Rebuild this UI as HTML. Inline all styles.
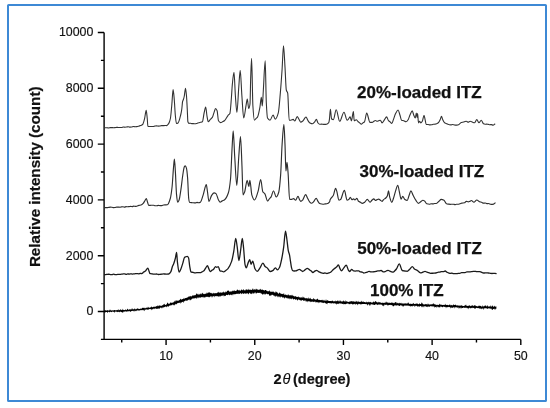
<!DOCTYPE html>
<html><head><meta charset="utf-8"><title>XRD patterns</title>
<style>html,body{margin:0;padding:0;background:#fff;}body{width:550px;height:408px;overflow:hidden;}svg{display:block;}</style>
</head><body>
<svg width="550" height="408" viewBox="0 0 550 408">
<rect x="8" y="5" width="538" height="396" rx="0.6" fill="none" stroke="#3d89d5" stroke-width="2"/>
<path d="M104.1 32.50V339.4H520.8 M100.90 339.40H104.1 M97.80 311.50H104.1 M100.90 283.60H104.1 M97.80 255.70H104.1 M100.90 227.80H104.1 M97.80 199.90H104.1 M100.90 172.00H104.1 M97.80 144.10H104.1 M100.90 116.20H104.1 M97.80 88.30H104.1 M100.90 60.40H104.1 M97.80 32.50H104.1 M121.74 339.4V342.40 M166.08 339.4V345.00 M210.42 339.4V342.40 M254.76 339.4V345.00 M299.10 339.4V342.40 M343.44 339.4V345.00 M387.78 339.4V342.40 M432.12 339.4V345.00 M476.46 339.4V342.40 M520.80 339.4V345.00" fill="none" stroke="#000" stroke-width="1.4"/>
<g font-family="Liberation Sans, Arial, sans-serif" font-size="12.4" fill="#111" stroke="#111" stroke-width="0.15"><text x="93.4" y="315.40" text-anchor="end">0</text><text x="93.4" y="259.60" text-anchor="end">2000</text><text x="93.4" y="203.80" text-anchor="end">4000</text><text x="93.4" y="148.00" text-anchor="end">6000</text><text x="93.4" y="92.20" text-anchor="end">8000</text><text x="93.4" y="36.40" text-anchor="end">10000</text><text x="166.08" y="359.6" text-anchor="middle">10</text><text x="254.76" y="359.6" text-anchor="middle">20</text><text x="343.44" y="359.6" text-anchor="middle">30</text><text x="432.12" y="359.6" text-anchor="middle">40</text><text x="520.80" y="359.6" text-anchor="middle">50</text></g>
<path d="M104.00 127.80C104.52 127.78 105.05 127.74 105.57 127.74C106.10 127.74 106.62 127.76 107.14 127.78C107.67 127.80 108.19 127.97 108.71 127.97C109.24 127.97 109.76 127.67 110.29 127.67C110.81 127.66 111.33 127.66 111.86 127.66C112.38 127.66 112.90 127.68 113.43 127.68C113.95 127.68 114.48 127.64 115.00 127.60C115.56 127.56 116.11 127.34 116.67 127.34C117.22 127.34 117.78 127.47 118.33 127.47C118.89 127.48 119.44 127.48 120.00 127.48C120.56 127.48 121.11 127.51 121.67 127.51C122.22 127.51 122.78 127.02 123.33 127.02C123.89 127.02 124.44 127.20 125.00 127.20C125.56 127.20 126.11 127.07 126.67 127.00C127.22 126.93 127.78 126.79 128.33 126.79C128.89 126.79 129.44 127.14 130.00 127.14C130.56 127.14 131.11 127.06 131.67 126.98C132.22 126.91 132.78 126.51 133.33 126.51C133.89 126.51 134.44 126.70 135.00 126.70C135.61 126.70 136.22 126.67 136.83 126.62C137.44 126.58 138.06 126.40 138.67 126.25C139.28 126.09 139.89 125.86 140.50 125.60C141.20 125.31 141.90 125.13 142.60 124.50C143.27 123.90 143.93 121.04 144.60 118.50C145.13 116.47 145.67 110.40 146.20 110.40C146.53 110.40 146.87 114.89 147.20 118.00C147.43 120.18 147.67 126.13 147.90 126.20C148.48 126.39 149.07 126.41 149.65 126.44C150.23 126.47 150.82 126.50 151.40 126.50C151.97 126.50 152.55 126.49 153.12 126.47C153.69 126.45 154.27 126.18 154.84 126.09C155.41 126.01 155.99 125.91 156.56 125.91C157.13 125.91 157.71 126.12 158.28 126.12C158.85 126.12 159.43 126.06 160.00 126.00C160.55 125.94 161.10 125.65 161.65 125.64C162.20 125.62 162.75 125.63 163.30 125.61C163.85 125.60 164.40 125.55 164.95 125.55C165.50 125.55 166.05 125.60 166.60 125.60C167.33 125.60 168.07 124.54 168.80 123.40C169.33 122.57 169.87 121.01 170.40 118.50C170.87 116.31 171.33 109.97 171.80 105.00C172.23 100.39 172.67 89.60 173.10 89.60C173.50 89.60 173.90 95.57 174.30 100.00C174.63 103.69 174.97 111.61 175.30 115.00C175.67 118.73 176.03 123.40 176.40 123.40C176.97 123.40 177.53 123.19 178.10 122.90C179.00 122.44 179.90 118.24 180.80 114.50C181.13 113.12 181.47 111.33 181.80 109.00C182.07 107.13 182.33 102.55 182.60 101.50C182.87 100.45 183.13 100.31 183.40 99.50C183.70 98.59 184.00 97.44 184.30 96.00C184.70 94.08 185.10 88.20 185.50 88.20C185.83 88.20 186.17 92.35 186.50 96.00C186.77 98.92 187.03 105.05 187.30 110.00C187.50 113.71 187.70 121.21 187.90 121.80C188.27 122.88 188.63 123.40 189.00 123.40C189.50 123.40 190.00 123.22 190.50 123.22C191.00 123.22 191.50 123.53 192.00 123.58C192.50 123.62 193.00 123.63 193.50 123.66C194.00 123.70 194.50 123.80 195.00 123.80C195.62 123.80 196.23 123.63 196.85 123.48C197.47 123.33 198.08 122.95 198.70 122.76C199.32 122.58 199.93 122.48 200.55 122.31C201.17 122.14 201.78 122.08 202.40 121.70C203.00 121.33 203.60 115.05 204.20 112.50C204.70 110.38 205.20 107.00 205.70 107.00C206.13 107.00 206.57 113.80 207.00 116.20C207.40 118.42 207.80 121.70 208.20 121.70C208.92 121.70 209.63 120.17 210.35 119.40C211.07 118.63 211.78 118.25 212.50 117.10C213.10 116.14 213.70 113.20 214.30 111.60C214.73 110.45 215.17 108.50 215.60 108.50C216.10 108.50 216.60 109.47 217.10 110.70C217.57 111.85 218.03 120.07 218.50 120.80C219.23 121.95 219.97 122.60 220.70 122.60C221.32 122.60 221.93 122.09 222.55 121.80C223.17 121.50 223.78 121.26 224.40 120.80C225.63 119.87 226.87 116.79 228.10 115.30C228.70 114.57 229.30 114.58 229.90 113.40C230.40 112.42 230.90 103.91 231.40 97.80C231.70 94.14 232.00 87.92 232.30 84.90C232.87 79.20 233.43 72.40 234.00 72.40C234.47 72.40 234.93 89.77 235.40 96.00C235.90 102.67 236.40 112.50 236.90 112.50C237.53 112.50 238.17 94.78 238.80 86.80C239.27 80.92 239.73 70.20 240.20 70.20C240.77 70.20 241.33 88.32 241.90 96.00C242.50 104.13 243.10 118.00 243.70 118.00C244.50 118.00 245.30 109.27 246.10 105.10C246.50 103.02 246.90 99.00 247.30 99.00C247.77 99.00 248.23 108.50 248.70 108.50C249.13 108.50 249.57 107.00 250.00 104.00C250.23 102.39 250.47 84.05 250.70 77.60C251.00 69.30 251.30 58.30 251.60 58.30C252.03 58.30 252.47 99.39 252.90 106.00C253.40 113.63 253.90 120.20 254.40 120.20C254.92 120.20 255.43 119.14 255.95 118.62C256.47 118.11 256.98 117.88 257.50 117.10C258.33 115.84 259.17 111.23 260.00 106.70C260.43 104.34 260.87 97.30 261.30 97.30C261.63 97.30 261.97 106.00 262.30 106.00C262.63 106.00 262.97 96.13 263.30 91.00C263.93 81.25 264.57 60.80 265.20 60.80C265.57 60.80 265.93 95.35 266.30 102.50C266.70 110.30 267.10 117.40 267.50 118.10C268.33 119.57 269.17 120.20 270.00 120.20C271.03 120.20 272.07 115.00 273.10 115.00C273.80 115.00 274.50 119.20 275.20 119.20C276.23 119.20 277.27 116.54 278.30 112.90C279.00 110.44 279.70 100.13 280.40 92.10C280.97 85.60 281.53 77.68 282.10 69.20C282.57 62.21 283.03 45.80 283.50 45.80C284.00 45.80 284.50 59.22 285.00 67.10C285.43 73.93 285.87 88.28 286.30 90.00C286.77 91.85 287.23 91.28 287.70 93.10C288.20 95.05 288.70 120.20 289.20 120.20C289.73 120.20 290.27 120.20 290.80 120.20C291.60 120.20 292.40 119.40 293.20 119.40C293.73 119.40 294.27 121.00 294.80 121.00C295.60 121.00 296.40 116.60 297.20 116.60C297.73 116.60 298.27 118.18 298.80 119.00C299.47 120.03 300.13 122.20 300.80 122.20C301.47 122.20 302.13 121.53 302.80 121.00C303.87 120.16 304.93 117.00 306.00 117.00C306.67 117.00 307.33 119.64 308.00 120.60C308.67 121.56 309.33 122.65 310.00 123.00C310.80 123.42 311.60 123.80 312.40 123.80C313.07 123.80 313.73 122.88 314.40 122.20C315.07 121.52 315.73 119.40 316.40 119.40C316.93 119.40 317.47 122.40 318.00 123.00C318.53 123.60 319.07 124.20 319.60 124.20C320.27 124.20 320.93 124.17 321.60 124.17C322.27 124.17 322.93 124.40 323.60 124.40C324.27 124.40 324.93 124.40 325.60 124.40C326.27 124.40 326.93 124.12 327.60 123.80C328.00 123.61 328.40 123.32 328.80 122.60C329.00 122.24 329.20 120.91 329.40 119.60C329.73 117.42 330.07 109.30 330.40 109.30C330.80 109.30 331.20 118.87 331.60 119.10C332.20 119.44 332.80 119.60 333.40 119.60C334.33 119.60 335.27 109.80 336.20 109.80C337.37 109.80 338.53 121.30 339.70 121.30C341.13 121.30 342.57 112.20 344.00 112.20C345.03 112.20 346.07 120.20 347.10 120.20C347.60 120.20 348.10 119.38 348.60 118.85C349.10 118.32 349.60 116.90 350.10 116.90C350.53 116.90 350.97 120.90 351.40 120.90C352.07 120.90 352.73 111.50 353.40 111.50C353.67 111.50 353.93 120.70 354.20 120.70C354.90 120.70 355.60 119.80 356.30 119.80C356.86 119.80 357.41 120.97 357.97 121.47C358.52 121.98 359.08 122.40 359.63 122.86C360.19 123.31 360.74 124.20 361.30 124.20C361.83 124.20 362.37 123.29 362.90 122.89C363.43 122.49 363.97 122.40 364.50 121.80C365.23 120.98 365.97 113.10 366.70 113.10C367.80 113.10 368.90 122.40 370.00 122.40C370.73 122.40 371.47 122.40 372.20 122.40C372.75 122.40 373.30 121.60 373.85 121.29C374.40 120.98 374.95 120.50 375.50 120.50C376.03 120.50 376.57 121.30 377.10 121.30C377.63 121.30 378.17 120.88 378.70 120.70C379.27 120.51 379.83 120.20 380.40 120.20C380.93 120.20 381.47 122.90 382.00 122.90C382.73 122.90 383.47 121.15 384.20 120.20C385.00 119.16 385.80 116.90 386.60 116.90C387.23 116.90 387.87 120.02 388.50 120.70C389.05 121.29 389.60 121.48 390.15 121.92C390.70 122.37 391.25 123.40 391.80 123.40C392.33 123.40 392.87 120.95 393.40 119.60C394.13 117.74 394.87 114.99 395.60 113.60C396.43 112.02 397.27 110.00 398.10 110.00C398.73 110.00 399.37 113.45 400.00 115.30C400.53 116.86 401.07 119.96 401.60 120.20C402.33 120.53 403.07 120.47 403.80 120.70C404.53 120.93 405.27 121.80 406.00 121.80C406.73 121.80 407.47 120.67 408.20 119.60C408.83 118.68 409.47 116.02 410.10 114.70C410.83 113.18 411.57 110.90 412.30 110.90C412.73 110.90 413.17 113.68 413.60 114.70C414.17 116.03 414.73 118.00 415.30 118.00C415.63 118.00 415.97 113.10 416.30 113.10C416.57 113.10 416.83 117.40 417.10 117.40C417.27 117.40 417.43 113.60 417.60 113.60C417.90 113.60 418.20 122.90 418.50 122.90C418.87 122.90 419.23 121.30 419.60 121.30C419.97 121.30 420.33 122.90 420.70 122.90C421.23 122.90 421.77 122.13 422.30 121.30C422.87 120.42 423.43 115.30 424.00 115.30C424.37 115.30 424.73 118.07 425.10 119.60C425.47 121.13 425.83 124.50 426.20 124.50C426.83 124.50 427.47 124.44 428.10 124.44C428.73 124.44 429.37 124.90 430.00 124.90C430.57 124.90 431.13 124.85 431.70 124.79C432.27 124.73 432.83 124.40 433.40 124.31C433.97 124.21 434.53 124.20 435.10 124.10C435.63 124.01 436.17 123.85 436.70 123.66C437.23 123.46 437.77 123.23 438.30 122.80C438.93 122.29 439.57 120.92 440.20 119.60C440.63 118.70 441.07 116.20 441.50 116.20C441.90 116.20 442.30 118.74 442.70 119.60C443.33 120.96 443.97 122.38 444.60 122.80C445.13 123.16 445.67 123.23 446.20 123.48C446.73 123.73 447.27 124.11 447.80 124.30C448.31 124.49 448.83 124.68 449.34 124.73C449.85 124.79 450.37 124.83 450.88 124.83C451.39 124.83 451.91 124.48 452.42 124.48C452.93 124.48 453.45 124.66 453.96 124.77C454.47 124.87 454.99 125.07 455.50 125.10C456.02 125.13 456.53 125.15 457.05 125.15C457.57 125.15 458.08 124.91 458.60 124.70C459.47 124.35 460.33 122.93 461.20 122.60C461.73 122.40 462.27 122.32 462.80 122.18C463.33 122.05 463.87 121.93 464.40 121.80C465.03 121.64 465.67 121.30 466.30 121.30C466.93 121.30 467.57 122.20 468.20 122.20C468.83 122.20 469.47 121.30 470.10 121.30C470.93 121.30 471.77 121.92 472.60 122.20C473.23 122.41 473.87 122.80 474.50 122.80C475.27 122.80 476.03 119.60 476.80 119.60C477.53 119.60 478.27 122.80 479.00 122.80C479.73 122.80 480.47 120.30 481.20 120.30C481.97 120.30 482.73 123.45 483.50 123.80C484.02 124.04 484.53 124.24 485.05 124.24C485.57 124.24 486.08 124.10 486.60 124.10C487.13 124.10 487.67 124.24 488.20 124.34C488.73 124.43 489.27 124.70 489.80 124.70C490.33 124.70 490.87 124.64 491.40 124.64C491.93 124.64 492.47 125.10 493.00 125.10C493.73 125.10 494.47 124.23 495.20 123.80" fill="none" stroke="#333" stroke-width="1.1" stroke-linejoin="round"/>
<path d="M104.00 207.60C104.53 207.61 105.07 207.62 105.60 207.64C106.13 207.65 106.67 207.69 107.20 207.69C107.73 207.69 108.27 207.41 108.80 207.34C109.33 207.27 109.87 207.19 110.40 207.19C110.93 207.19 111.47 207.25 112.00 207.30C112.53 207.35 113.07 207.64 113.60 207.64C114.13 207.64 114.67 207.55 115.20 207.47C115.73 207.40 116.27 207.05 116.80 207.05C117.33 207.05 117.87 207.07 118.40 207.09C118.93 207.11 119.47 207.20 120.00 207.20C120.51 207.20 121.02 206.93 121.53 206.87C122.04 206.81 122.55 206.75 123.05 206.75C123.56 206.75 124.07 207.11 124.58 207.11C125.09 207.11 125.60 206.64 126.11 206.64C126.62 206.64 127.13 206.78 127.64 206.78C128.15 206.78 128.65 206.69 129.16 206.62C129.67 206.56 130.18 206.38 130.69 206.38C131.20 206.38 131.71 206.61 132.22 206.61C132.73 206.61 133.24 206.16 133.75 206.16C134.25 206.16 134.76 206.38 135.27 206.38C135.78 206.38 136.29 206.29 136.80 206.20C137.50 206.08 138.20 205.54 138.90 205.37C139.60 205.20 140.30 205.20 141.00 205.00C141.73 204.79 142.47 204.14 143.20 203.40C143.80 202.79 144.40 201.44 145.00 200.50C145.43 199.82 145.87 198.50 146.30 198.50C146.70 198.50 147.10 200.87 147.50 202.00C147.90 203.13 148.30 205.30 148.70 205.30C149.24 205.30 149.78 205.30 150.31 205.30C150.85 205.29 151.39 205.21 151.93 205.21C152.47 205.21 153.00 205.25 153.54 205.29C154.08 205.33 154.62 205.75 155.16 205.75C155.70 205.75 156.23 205.73 156.77 205.70C157.31 205.66 157.85 205.44 158.39 205.44C158.92 205.44 159.46 205.60 160.00 205.60C160.62 205.60 161.23 205.61 161.85 205.61C162.47 205.61 163.08 205.04 163.70 204.98C164.32 204.91 164.93 204.91 165.55 204.86C166.17 204.82 166.78 204.80 167.40 204.70C168.37 204.55 169.33 201.74 170.30 198.50C170.90 196.49 171.50 192.17 172.10 186.80C172.57 182.62 173.03 172.75 173.50 167.60C173.80 164.29 174.10 159.10 174.40 159.10C174.73 159.10 175.07 166.87 175.40 172.10C175.77 177.86 176.13 190.15 176.50 194.10C176.87 198.05 177.23 202.20 177.60 202.20C178.10 202.20 178.60 201.15 179.10 200.00C179.70 198.62 180.30 193.64 180.90 189.70C181.53 185.54 182.17 179.00 182.80 175.00C183.30 171.84 183.80 167.71 184.30 166.90C184.63 166.36 184.97 165.90 185.30 165.90C185.70 165.90 186.10 167.05 186.50 168.40C186.87 169.64 187.23 173.57 187.60 177.90C187.97 182.23 188.33 195.60 188.70 198.50C188.93 200.35 189.17 202.08 189.40 202.20C190.06 202.53 190.71 202.59 191.37 202.65C192.02 202.70 192.68 202.71 193.33 202.75C193.99 202.79 194.64 202.90 195.30 202.90C195.87 202.90 196.43 202.43 197.00 202.43C197.57 202.43 198.13 202.73 198.70 202.73C199.27 202.73 199.83 202.49 200.40 202.20C201.40 201.68 202.40 197.06 203.40 194.10C204.37 191.24 205.33 184.60 206.30 184.60C206.67 184.60 207.03 188.93 207.40 191.20C207.93 194.51 208.47 201.50 209.00 201.50C209.83 201.50 210.67 196.80 211.50 195.60C212.37 194.35 213.23 192.90 214.10 192.90C214.70 192.90 215.30 193.11 215.90 193.40C216.77 193.81 217.63 198.54 218.50 200.00C219.03 200.90 219.57 202.10 220.10 202.10C220.80 202.10 221.50 201.22 222.20 200.88C222.90 200.54 223.60 200.44 224.30 200.00C225.67 199.13 227.03 196.76 228.40 192.70C229.10 190.62 229.80 186.10 230.50 179.20C231.07 173.61 231.63 155.33 232.20 145.80C232.53 140.19 232.87 130.80 233.20 130.80C233.70 130.80 234.20 148.62 234.70 156.30C235.40 167.05 236.10 185.40 236.80 185.40C237.47 185.40 238.13 164.90 238.80 156.30C239.37 148.99 239.93 136.50 240.50 136.50C241.00 136.50 241.50 154.84 242.00 166.70C242.33 174.61 242.67 194.80 243.00 194.80C243.57 194.80 244.13 193.14 244.70 191.70C245.53 189.58 246.37 180.20 247.20 180.20C247.73 180.20 248.27 186.50 248.80 186.50C249.17 186.50 249.53 180.20 249.90 180.20C250.53 180.20 251.17 192.78 251.80 194.80C252.70 197.67 253.60 200.00 254.50 200.00C255.67 200.00 256.83 195.37 258.00 191.70C258.90 188.87 259.80 179.60 260.70 179.60C261.40 179.60 262.10 190.51 262.80 191.70C263.50 192.89 264.20 192.80 264.90 193.80C265.80 195.08 266.70 201.00 267.60 201.00C268.18 201.00 268.77 199.48 269.35 198.80C269.93 198.13 270.52 197.77 271.10 196.90C271.90 195.70 272.70 190.70 273.50 190.70C274.40 190.70 275.30 197.00 276.20 197.00C277.07 197.00 277.93 194.87 278.80 192.00C279.40 190.01 280.00 183.13 280.60 175.40C281.10 168.96 281.60 151.85 282.10 144.50C282.70 135.68 283.30 124.20 283.90 124.20C284.27 124.20 284.63 136.12 285.00 144.50C285.30 151.36 285.60 171.00 285.90 171.00C286.27 171.00 286.63 162.20 287.00 162.20C287.37 162.20 287.73 168.60 288.10 173.20C288.60 179.47 289.10 199.40 289.60 199.40C290.27 199.40 290.93 199.40 291.60 199.40C292.27 199.40 292.93 198.60 293.60 198.60C294.27 198.60 294.93 200.20 295.60 200.20C296.40 200.20 297.20 196.20 298.00 196.20C298.53 196.20 299.07 198.92 299.60 199.80C300.00 200.46 300.40 201.40 300.80 201.40C301.47 201.40 302.13 200.53 302.80 199.80C303.73 198.78 304.67 194.60 305.60 194.60C306.27 194.60 306.93 197.00 307.60 198.20C308.27 199.40 308.93 201.08 309.60 201.80C310.20 202.45 310.80 203.20 311.40 203.20C312.13 203.20 312.87 202.43 313.60 201.80C314.47 201.05 315.33 198.20 316.20 198.20C316.80 198.20 317.40 200.52 318.00 201.40C318.53 202.18 319.07 203.15 319.60 203.40C320.27 203.71 320.93 203.85 321.60 203.96C322.27 204.07 322.93 204.20 323.60 204.20C324.13 204.20 324.67 203.95 325.20 203.90C325.73 203.85 326.27 203.86 326.80 203.80C327.73 203.70 328.67 203.11 329.60 201.80C329.80 201.52 330.00 200.04 330.20 199.60C331.27 197.25 332.33 197.38 333.40 195.30C334.13 193.87 334.87 188.20 335.60 188.20C335.97 188.20 336.33 189.79 336.70 190.90C337.43 193.11 338.17 200.20 338.90 200.20C339.43 200.20 339.97 199.91 340.50 199.60C341.80 198.84 343.10 190.40 344.40 190.40C345.30 190.40 346.20 200.20 347.10 200.20C347.63 200.20 348.17 199.92 348.70 199.60C349.23 199.28 349.77 197.20 350.30 197.20C350.87 197.20 351.43 199.60 352.00 199.60C352.53 199.60 353.07 198.80 353.60 198.80C354.03 198.80 354.47 199.80 354.90 199.80C355.57 199.80 356.23 198.30 356.90 198.30C357.43 198.30 357.97 200.88 358.50 201.30C359.13 201.80 359.77 201.88 360.40 202.23C361.03 202.57 361.67 203.40 362.30 203.40C363.03 203.40 363.77 202.86 364.50 202.40C365.43 201.81 366.37 199.40 367.30 199.40C368.20 199.40 369.10 202.20 370.00 202.20C370.63 202.20 371.27 200.80 371.90 200.24C372.53 199.69 373.17 198.80 373.80 198.80C374.37 198.80 374.93 200.50 375.50 200.50C376.03 200.50 376.57 199.81 377.10 199.60C377.63 199.39 378.17 199.10 378.70 199.10C379.27 199.10 379.83 199.82 380.40 200.20C380.93 200.56 381.47 201.30 382.00 201.30C382.53 201.30 383.07 200.07 383.60 199.60C384.33 198.96 385.07 198.71 385.80 198.00C386.33 197.48 386.87 196.96 387.40 195.80C387.77 195.00 388.13 190.90 388.50 190.90C388.93 190.90 389.37 195.92 389.80 197.40C390.47 199.68 391.13 202.40 391.80 202.40C392.33 202.40 392.87 200.01 393.40 198.50C394.13 196.42 394.87 193.07 395.60 190.90C396.33 188.73 397.07 185.20 397.80 185.20C398.33 185.20 398.87 189.75 399.40 192.00C399.97 194.39 400.53 199.10 401.10 199.10C401.63 199.10 402.17 196.40 402.70 196.40C403.43 196.40 404.17 199.13 404.90 199.60C405.63 200.07 406.37 200.50 407.10 200.50C407.83 200.50 408.57 196.53 409.30 194.70C409.83 193.37 410.37 190.90 410.90 190.90C411.63 190.90 412.37 193.90 413.10 195.30C414.00 197.02 414.90 198.91 415.80 200.20C416.70 201.49 417.60 203.40 418.50 203.40C419.23 203.40 419.97 202.33 420.70 201.80C421.43 201.27 422.17 200.20 422.90 200.20C423.43 200.20 423.97 200.56 424.50 200.90C425.23 201.37 425.97 203.60 426.70 203.80C427.60 204.05 428.50 204.20 429.40 204.20C429.98 204.20 430.57 203.78 431.15 203.78C431.73 203.78 432.32 203.90 432.90 203.90C433.48 203.90 434.07 203.53 434.65 203.52C435.23 203.51 435.82 203.51 436.40 203.50C437.23 203.48 438.07 202.01 438.90 201.30C439.67 200.65 440.43 199.40 441.20 199.40C442.13 199.40 443.07 199.81 444.00 200.30C444.83 200.74 445.67 203.57 446.50 203.80C447.15 203.98 447.80 204.03 448.45 204.11C449.10 204.19 449.75 204.30 450.40 204.30C450.91 204.30 451.41 204.22 451.92 204.22C452.43 204.22 452.93 204.24 453.44 204.27C453.95 204.30 454.45 204.58 454.96 204.58C455.47 204.58 455.97 204.29 456.48 204.29C456.99 204.29 457.49 204.30 458.00 204.30C458.63 204.30 459.27 203.94 459.90 203.74C460.53 203.55 461.17 203.21 461.80 203.10C462.67 202.95 463.53 202.98 464.40 202.80C465.03 202.67 465.67 201.30 466.30 201.30C466.93 201.30 467.57 201.80 468.20 201.80C468.73 201.80 469.27 201.56 469.80 201.37C470.33 201.18 470.87 200.50 471.40 200.50C472.23 200.50 473.07 202.20 473.90 202.20C474.87 202.20 475.83 200.00 476.80 200.00C477.73 200.00 478.67 201.49 479.60 201.80C480.25 202.02 480.90 202.06 481.55 202.26C482.20 202.46 482.85 203.10 483.50 203.10C484.06 203.10 484.61 203.03 485.17 203.03C485.72 203.03 486.28 203.61 486.83 203.61C487.39 203.61 487.94 203.50 488.50 203.50C489.37 203.50 490.23 204.30 491.10 204.30C491.93 204.30 492.77 204.23 493.60 204.10C494.23 204.00 494.87 203.10 495.50 202.60" fill="none" stroke="#2e2e2e" stroke-width="1.15" stroke-linejoin="round"/>
<path d="M104.00 274.50C104.53 274.56 105.07 274.67 105.60 274.67C106.13 274.67 106.67 274.34 107.20 274.31C107.73 274.28 108.27 274.25 108.80 274.25C109.33 274.25 109.87 274.51 110.40 274.56C110.93 274.61 111.47 274.66 112.00 274.66C112.53 274.66 113.07 274.20 113.60 274.20C114.13 274.20 114.67 274.63 115.20 274.63C115.73 274.63 116.27 274.60 116.80 274.57C117.33 274.54 117.87 274.42 118.40 274.38C118.93 274.34 119.47 274.33 120.00 274.30C120.52 274.27 121.04 274.25 121.56 274.20C122.08 274.16 122.60 274.01 123.11 273.96C123.63 273.92 124.15 273.87 124.67 273.87C125.19 273.87 125.71 274.38 126.23 274.38C126.75 274.38 127.27 273.89 127.79 273.89C128.30 273.89 128.82 274.12 129.34 274.12C129.86 274.12 130.38 273.80 130.90 273.80C131.42 273.80 131.94 274.09 132.46 274.09C132.98 274.09 133.50 273.98 134.01 273.91C134.53 273.84 135.05 273.73 135.57 273.68C136.09 273.62 136.61 273.56 137.13 273.56C137.65 273.56 138.17 273.83 138.69 273.83C139.20 273.83 139.72 273.39 140.24 273.39C140.76 273.39 141.28 273.60 141.80 273.60C142.42 273.60 143.03 272.53 143.65 272.09C144.27 271.64 144.88 271.41 145.50 270.90C146.27 270.27 147.03 268.20 147.80 268.20C148.20 268.20 148.60 270.01 149.00 271.00C149.33 271.82 149.67 273.53 150.00 273.60C150.56 273.72 151.11 273.70 151.67 273.77C152.22 273.84 152.78 274.08 153.33 274.08C153.89 274.08 154.44 274.07 155.00 274.07C155.56 274.06 156.11 274.00 156.67 274.00C157.22 274.00 157.78 274.52 158.33 274.52C158.89 274.52 159.44 274.45 160.00 274.40C160.58 274.34 161.16 274.22 161.74 274.14C162.32 274.07 162.90 273.95 163.48 273.95C164.06 273.95 164.64 274.01 165.22 274.02C165.80 274.03 166.38 274.05 166.96 274.05C167.54 274.05 168.12 274.03 168.70 274.00C169.43 273.96 170.17 272.84 170.90 271.60C171.43 270.70 171.97 267.52 172.50 266.20C172.87 265.29 173.23 264.89 173.60 264.00C174.17 262.62 174.73 260.67 175.30 258.50C175.73 256.84 176.17 252.50 176.60 252.50C176.87 252.50 177.13 259.58 177.40 261.80C177.97 266.52 178.53 272.20 179.10 272.20C179.63 272.20 180.17 270.56 180.70 269.40C181.43 267.81 182.17 265.24 182.90 262.90C183.43 261.20 183.97 257.81 184.50 257.40C184.87 257.12 185.23 257.03 185.60 256.90C186.17 256.69 186.73 256.40 187.30 256.40C187.73 256.40 188.17 257.07 188.60 258.00C188.97 258.79 189.33 264.18 189.70 266.20C190.17 268.77 190.63 272.16 191.10 272.20C191.73 272.26 192.37 272.24 193.00 272.29C193.63 272.34 194.27 272.90 194.90 272.90C195.50 272.90 196.10 272.64 196.70 272.64C197.30 272.64 197.90 272.68 198.50 272.69C199.10 272.69 199.70 272.70 200.30 272.70C200.85 272.70 201.40 272.21 201.95 271.94C202.50 271.68 203.05 271.51 203.60 271.10C204.33 270.55 205.07 268.85 205.80 267.80C206.33 267.04 206.87 265.60 207.40 265.60C207.90 265.60 208.40 267.91 208.90 268.90C209.40 269.89 209.90 271.60 210.40 271.60C210.90 271.60 211.40 270.63 211.90 270.28C212.40 269.93 212.90 269.79 213.40 269.40C214.13 268.83 214.87 266.70 215.60 266.70C215.97 266.70 216.33 267.30 216.70 267.30C217.23 267.30 217.77 266.70 218.30 266.70C218.87 266.70 219.43 270.56 220.00 270.80C220.60 271.06 221.20 271.06 221.80 271.22C222.40 271.38 223.00 271.80 223.60 271.80C224.33 271.80 225.07 270.96 225.80 270.43C226.53 269.91 227.27 269.44 228.00 268.60C229.20 267.23 230.40 264.86 231.60 261.40C232.33 259.28 233.07 255.25 233.80 251.20C234.43 247.71 235.07 238.40 235.70 238.40C236.20 238.40 236.70 243.50 237.20 246.80C237.77 250.54 238.33 260.60 238.90 260.60C239.50 260.60 240.10 253.62 240.70 249.70C241.23 246.22 241.77 238.40 242.30 238.40C242.73 238.40 243.17 244.35 243.60 248.30C244.07 252.55 244.53 262.11 245.00 264.30C245.40 266.17 245.80 267.90 246.20 267.90C246.93 267.90 247.67 263.64 248.40 262.10C248.87 261.12 249.33 259.60 249.80 259.60C250.20 259.60 250.60 264.30 251.00 264.30C251.57 264.30 252.13 261.10 252.70 261.10C253.43 261.10 254.17 267.28 254.90 268.60C255.63 269.92 256.37 271.30 257.10 271.30C258.07 271.30 259.03 269.23 260.00 267.90C260.97 266.57 261.93 263.10 262.90 263.10C263.63 263.10 264.37 265.84 265.10 266.50C265.83 267.16 266.57 267.29 267.30 267.90C268.27 268.70 269.23 271.50 270.20 271.50C271.17 271.50 272.13 270.96 273.10 270.40C273.83 269.97 274.57 267.90 275.30 267.90C276.03 267.90 276.77 269.80 277.50 269.80C278.20 269.80 278.90 268.51 279.60 267.20C280.33 265.82 281.07 262.05 281.80 258.50C282.43 255.43 283.07 251.38 283.70 246.80C284.30 242.46 284.90 231.10 285.50 231.10C285.97 231.10 286.43 236.34 286.90 239.50C287.40 242.89 287.90 248.94 288.40 251.20C288.77 252.86 289.13 253.19 289.50 254.80C289.83 256.27 290.17 259.25 290.50 261.40C290.83 263.55 291.17 266.41 291.50 267.70C291.83 268.99 292.17 270.30 292.50 270.50C293.03 270.81 293.57 270.99 294.10 270.99C294.63 270.99 295.17 270.95 295.70 270.90C296.33 270.84 296.97 270.46 297.60 270.19C298.23 269.93 298.87 269.30 299.50 269.30C300.03 269.30 300.57 270.15 301.10 270.51C301.63 270.88 302.17 271.50 302.70 271.50C303.20 271.50 303.70 270.89 304.20 270.52C304.70 270.14 305.20 269.55 305.70 269.22C306.20 268.88 306.70 268.40 307.20 268.40C308.03 268.40 308.87 269.47 309.70 270.00C310.23 270.34 310.77 270.61 311.30 271.02C311.83 271.43 312.37 272.60 312.90 272.60C313.53 272.60 314.17 271.52 314.80 271.16C315.43 270.80 316.07 270.30 316.70 270.30C317.20 270.30 317.70 271.09 318.20 271.38C318.70 271.66 319.20 271.85 319.70 272.09C320.20 272.32 320.70 272.63 321.20 272.80C321.83 273.02 322.47 273.31 323.10 273.31C323.73 273.31 324.37 272.98 325.00 272.98C325.63 272.98 326.27 273.50 326.90 273.50C327.53 273.50 328.17 273.14 328.80 272.93C329.43 272.72 330.07 272.56 330.70 272.20C331.23 271.90 331.77 271.12 332.30 270.59C332.83 270.06 333.37 269.45 333.90 269.00C334.77 268.26 335.63 267.89 336.50 267.10C337.13 266.53 337.77 264.90 338.40 264.90C338.90 264.90 339.40 267.46 339.90 268.40C340.43 269.40 340.97 270.90 341.50 270.90C342.17 270.90 342.83 269.20 343.50 268.40C344.43 267.28 345.37 265.20 346.30 265.20C347.03 265.20 347.77 269.37 348.50 270.30C348.93 270.85 349.37 271.50 349.80 271.50C350.43 271.50 351.07 269.30 351.70 269.30C352.33 269.30 352.97 270.81 353.60 270.90C354.18 270.98 354.76 271.04 355.33 271.04C355.91 271.04 356.49 270.79 357.07 270.79C357.64 270.79 358.22 270.83 358.80 270.90C359.37 270.96 359.93 271.83 360.50 271.93C361.07 272.03 361.63 272.01 362.20 272.11C362.77 272.21 363.33 273.10 363.90 273.10C364.47 273.10 365.03 272.70 365.60 272.53C366.17 272.35 366.73 272.24 367.30 272.04C367.87 271.85 368.43 271.30 369.00 271.30C369.63 271.30 370.27 271.80 370.90 271.84C371.53 271.88 372.17 271.90 372.80 271.90C373.37 271.90 373.93 271.79 374.50 271.71C375.07 271.63 375.63 271.49 376.20 271.36C376.77 271.22 377.33 270.92 377.90 270.90C378.43 270.88 378.97 270.89 379.50 270.88C380.03 270.86 380.57 270.50 381.10 270.50C381.93 270.50 382.77 271.90 383.60 271.90C384.10 271.90 384.60 271.76 385.10 271.62C385.60 271.47 386.10 270.94 386.60 270.74C387.10 270.55 387.60 270.30 388.10 270.30C388.67 270.30 389.23 270.79 389.80 271.04C390.37 271.30 390.93 271.63 391.50 271.81C392.07 271.98 392.63 272.20 393.20 272.20C393.73 272.20 394.27 271.35 394.80 270.82C395.33 270.30 395.87 269.72 396.40 269.00C397.37 267.69 398.33 263.90 399.30 263.90C400.23 263.90 401.17 269.81 402.10 270.30C402.73 270.64 403.37 270.81 404.00 270.90C404.53 270.98 405.07 270.99 405.60 271.05C406.13 271.11 406.67 271.30 407.20 271.30C408.03 271.30 408.87 270.04 409.70 269.30C410.57 268.53 411.43 266.70 412.30 266.70C413.13 266.70 413.97 268.77 414.80 269.30C415.67 269.86 416.53 269.97 417.40 270.50C417.92 270.82 418.43 271.45 418.95 271.82C419.47 272.20 419.98 272.80 420.50 272.80C421.00 272.80 421.50 272.67 422.00 272.55C422.50 272.43 423.00 272.10 423.50 271.91C424.00 271.72 424.50 271.40 425.00 271.40C425.61 271.40 426.22 271.92 426.83 272.11C427.44 272.30 428.06 272.40 428.67 272.60C429.28 272.79 429.89 273.30 430.50 273.30C431.10 273.30 431.70 273.27 432.30 273.25C432.90 273.23 433.50 273.20 434.10 273.17C434.70 273.13 435.30 273.09 435.90 273.00C436.51 272.91 437.12 272.36 437.73 272.28C438.34 272.21 438.96 272.22 439.57 272.15C440.18 272.08 440.79 271.60 441.40 271.60C442.03 271.60 442.67 271.60 443.30 271.60C443.93 271.59 444.57 271.00 445.20 271.00C445.82 271.00 446.43 271.91 447.05 272.23C447.67 272.54 448.28 272.84 448.90 273.00C449.40 273.13 449.90 273.28 450.40 273.28C450.90 273.28 451.40 273.21 451.90 273.21C452.40 273.21 452.90 273.53 453.40 273.56C453.90 273.59 454.40 273.59 454.90 273.61C455.40 273.63 455.90 273.70 456.40 273.70C456.97 273.70 457.53 273.42 458.10 273.41C458.67 273.41 459.23 273.41 459.80 273.40C460.37 273.40 460.93 272.70 461.50 272.70C462.07 272.70 462.63 272.70 463.20 272.70C463.81 272.70 464.42 272.65 465.03 272.58C465.64 272.52 466.26 271.88 466.87 271.88C467.48 271.88 468.09 271.90 468.70 271.90C469.22 271.90 469.74 271.84 470.27 271.79C470.79 271.75 471.31 271.62 471.83 271.56C472.36 271.49 472.88 271.44 473.40 271.40C473.92 271.36 474.43 271.29 474.95 271.29C475.47 271.29 475.98 271.62 476.50 271.62C477.02 271.62 477.53 271.55 478.05 271.55C478.57 271.55 479.08 271.57 479.60 271.60C480.12 271.63 480.64 271.94 481.17 272.14C481.69 272.33 482.21 272.68 482.73 272.79C483.26 272.89 483.78 273.00 484.30 273.00C484.82 273.00 485.33 272.95 485.85 272.93C486.37 272.90 486.88 272.86 487.40 272.86C487.92 272.86 488.43 273.03 488.95 273.11C489.47 273.18 489.98 273.23 490.50 273.30C491.01 273.37 491.52 273.51 492.02 273.51C492.53 273.51 493.04 273.32 493.55 273.32C494.06 273.32 494.57 273.36 495.08 273.40C495.58 273.44 496.09 273.60 496.60 273.70" fill="none" stroke="#1a1a1a" stroke-width="1.3" stroke-linejoin="round"/>
<path d="M104.0 309.8 L104.4 310.6 L104.8 310.6 L105.2 310.7 L105.6 310.1 L106.0 309.9 L106.4 310.4 L106.8 310.7 L107.2 310.0 L107.6 310.2 L108.0 310.6 L108.4 310.5 L108.8 310.6 L109.2 310.3 L109.6 310.6 L110.0 308.9 L110.4 310.7 L110.8 309.8 L111.2 310.2 L111.6 310.5 L112.0 310.7 L112.4 310.4 L112.8 309.9 L113.2 310.6 L113.6 310.2 L114.0 310.2 L114.4 309.9 L114.8 310.1 L115.2 310.3 L115.6 310.6 L116.0 310.0 L116.4 310.4 L116.8 310.0 L117.2 310.1 L117.6 310.3 L118.0 309.4 L118.4 309.3 L118.8 310.4 L119.2 310.0 L119.6 310.2 L120.0 309.5 L120.4 309.1 L120.8 309.9 L121.2 309.8 L121.6 309.9 L122.0 310.2 L122.4 308.5 L122.8 310.0 L123.2 310.1 L123.6 309.4 L124.0 310.2 L124.4 309.9 L124.8 309.9 L125.2 309.4 L125.6 309.4 L126.0 310.0 L126.4 310.1 L126.8 309.8 L127.2 309.2 L127.6 308.7 L128.0 308.7 L128.4 309.9 L128.8 309.8 L129.2 309.5 L129.6 309.1 L130.0 309.7 L130.4 309.0 L130.8 309.7 L131.2 308.2 L131.6 309.4 L132.0 309.4 L132.4 309.3 L132.8 308.1 L133.2 309.4 L133.6 309.2 L134.0 309.0 L134.4 309.2 L134.8 308.0 L135.2 309.3 L135.6 309.4 L136.0 308.6 L136.4 309.1 L136.8 309.2 L137.2 308.1 L137.6 308.5 L138.0 309.1 L138.4 308.6 L138.8 308.9 L139.2 309.0 L139.6 309.0 L140.0 308.8 L140.4 308.6 L140.8 308.7 L141.2 308.5 L141.6 308.7 L142.0 308.3 L142.4 307.8 L142.8 307.7 L143.2 308.0 L143.6 307.4 L144.0 308.3 L144.4 308.3 L144.8 307.4 L145.2 308.2 L145.6 308.2 L146.0 307.4 L146.4 307.5 L146.8 307.9 L147.2 308.1 L147.6 307.5 L148.0 306.4 L148.4 307.6 L148.8 307.6 L149.2 307.8 L149.6 307.8 L150.0 307.4 L150.4 307.3 L150.8 307.6 L151.2 306.7 L151.6 306.3 L152.0 307.5 L152.4 307.1 L152.8 307.2 L153.2 307.0 L153.6 306.8 L154.0 306.6 L154.4 307.1 L154.8 306.5 L155.2 307.0 L155.6 306.7 L156.0 305.8 L156.4 306.3 L156.8 306.3 L157.2 306.3 L157.6 304.9 L158.0 306.5 L158.4 305.9 L158.8 305.6 L159.2 305.3 L159.6 305.7 L160.0 305.5 L160.4 305.5 L160.8 305.9 L161.2 306.0 L161.6 305.4 L162.0 305.7 L162.4 305.2 L162.8 305.1 L163.2 305.2 L163.6 303.7 L164.0 304.7 L164.4 303.5 L164.8 304.6 L165.2 304.9 L165.6 304.9 L166.0 304.6 L166.4 304.6 L166.8 304.2 L167.2 302.7 L167.6 302.6 L168.0 303.3 L168.4 303.6 L168.8 304.0 L169.2 303.8 L169.6 303.7 L170.0 303.1 L170.4 301.9 L170.8 303.0 L171.2 303.0 L171.6 302.5 L172.0 302.8 L172.4 302.7 L172.8 302.6 L173.2 302.6 L173.6 302.2 L174.0 301.6 L174.4 300.5 L174.8 302.1 L175.2 301.7 L175.6 300.1 L176.0 301.3 L176.4 300.9 L176.8 299.7 L177.2 300.8 L177.6 300.6 L178.0 300.9 L178.4 300.5 L178.8 300.5 L179.2 300.3 L179.6 300.0 L180.0 299.5 L180.4 298.5 L180.8 299.3 L181.2 299.9 L181.6 298.9 L182.0 299.4 L182.4 298.9 L182.8 298.9 L183.2 298.4 L183.6 299.0 L184.0 297.5 L184.4 298.9 L184.8 298.6 L185.2 298.0 L185.6 298.0 L186.0 298.3 L186.4 297.7 L186.8 297.8 L187.2 297.8 L187.6 296.9 L188.0 297.6 L188.4 296.4 L188.8 296.4 L189.2 296.9 L189.6 296.0 L190.0 296.3 L190.4 296.6 L190.8 295.8 L191.2 296.2 L191.6 296.4 L192.0 296.3 L192.4 295.6 L192.8 295.3 L193.2 295.0 L193.6 295.7 L194.0 295.7 L194.4 294.8 L194.8 295.4 L195.2 295.2 L195.6 295.1 L196.0 294.5 L196.4 293.5 L196.8 293.5 L197.2 294.0 L197.6 294.8 L198.0 293.2 L198.4 294.7 L198.8 294.6 L199.2 294.5 L199.6 294.6 L200.0 293.6 L200.4 293.4 L200.8 294.5 L201.2 293.1 L201.6 294.5 L202.0 294.0 L202.4 292.6 L202.8 293.3 L203.2 293.8 L203.6 294.3 L204.0 293.4 L204.4 294.2 L204.8 294.1 L205.2 293.4 L205.6 293.9 L206.0 293.6 L206.4 293.7 L206.8 292.2 L207.2 293.5 L207.6 293.1 L208.0 292.2 L208.4 292.7 L208.8 292.5 L209.2 292.6 L209.6 292.0 L210.0 293.2 L210.4 292.6 L210.8 293.3 L211.2 292.7 L211.6 293.3 L212.0 293.5 L212.4 293.4 L212.8 293.5 L213.2 293.5 L213.6 292.5 L214.0 293.4 L214.4 292.9 L214.8 293.4 L215.2 293.3 L215.6 293.2 L216.0 292.7 L216.4 293.2 L216.8 293.2 L217.2 293.0 L217.6 292.0 L218.0 293.0 L218.4 291.4 L218.8 292.6 L219.2 292.6 L219.6 293.0 L220.0 291.9 L220.4 292.5 L220.8 292.7 L221.2 292.2 L221.6 292.9 L222.0 292.5 L222.4 291.9 L222.8 292.7 L223.2 292.5 L223.6 291.3 L224.0 291.9 L224.4 292.4 L224.8 292.4 L225.2 292.5 L225.6 291.1 L226.0 292.4 L226.4 291.5 L226.8 291.9 L227.2 290.5 L227.6 290.8 L228.0 291.0 L228.4 290.3 L228.8 290.8 L229.2 291.4 L229.6 291.8 L230.0 291.6 L230.4 291.8 L230.8 291.3 L231.2 291.4 L231.6 291.6 L232.0 291.2 L232.4 290.3 L232.8 291.5 L233.2 290.6 L233.6 290.8 L234.0 291.4 L234.4 290.2 L234.8 290.6 L235.2 290.9 L235.6 290.9 L236.0 290.8 L236.4 290.9 L236.8 290.1 L237.2 289.2 L237.6 290.1 L238.0 289.7 L238.4 290.8 L238.8 290.1 L239.2 290.7 L239.6 289.6 L240.0 290.8 L240.4 290.7 L240.8 290.4 L241.2 288.9 L241.6 290.2 L242.0 289.6 L242.4 290.3 L242.8 290.2 L243.2 290.2 L243.6 288.8 L244.0 289.8 L244.4 290.5 L244.8 290.2 L245.2 290.4 L245.6 289.9 L246.0 289.1 L246.4 290.2 L246.8 288.7 L247.2 290.0 L247.6 290.2 L248.0 288.4 L248.4 289.3 L248.8 290.0 L249.2 289.5 L249.6 290.1 L250.0 289.5 L250.4 289.8 L250.8 289.7 L251.2 289.9 L251.6 289.9 L252.0 289.4 L252.4 289.4 L252.8 288.3 L253.2 288.8 L253.6 289.9 L254.0 289.7 L254.4 289.8 L254.8 288.7 L255.2 289.4 L255.6 290.0 L256.0 288.2 L256.4 289.2 L256.8 289.2 L257.2 289.7 L257.6 288.9 L258.0 289.9 L258.4 290.0 L258.8 289.5 L259.2 289.7 L259.6 289.6 L260.0 289.5 L260.4 289.5 L260.8 288.5 L261.2 289.9 L261.6 289.7 L262.0 289.5 L262.4 290.1 L262.8 289.3 L263.2 290.3 L263.6 290.1 L264.0 290.2 L264.4 290.4 L264.8 290.6 L265.2 290.0 L265.6 290.1 L266.0 290.1 L266.4 290.5 L266.8 291.1 L267.2 290.8 L267.6 291.4 L268.0 290.9 L268.4 291.3 L268.8 291.4 L269.2 290.0 L269.6 291.0 L270.0 291.4 L270.4 291.7 L270.8 291.4 L271.2 292.0 L271.6 292.1 L272.0 290.4 L272.4 292.1 L272.8 292.1 L273.2 290.9 L273.6 292.2 L274.0 292.0 L274.4 292.7 L274.8 292.6 L275.2 291.1 L275.6 292.5 L276.0 292.8 L276.4 291.6 L276.8 292.0 L277.2 292.9 L277.6 292.0 L278.0 293.4 L278.4 293.5 L278.8 293.7 L279.2 292.9 L279.6 292.3 L280.0 293.1 L280.4 293.3 L280.8 293.8 L281.2 294.1 L281.6 293.5 L282.0 294.3 L282.4 293.8 L282.8 294.3 L283.2 293.2 L283.6 294.6 L284.0 293.0 L284.4 294.7 L284.8 294.9 L285.2 294.7 L285.6 294.6 L286.0 294.6 L286.4 295.1 L286.8 295.3 L287.2 294.5 L287.6 295.3 L288.0 295.4 L288.4 293.8 L288.8 295.3 L289.2 295.4 L289.6 295.3 L290.0 295.3 L290.4 295.6 L290.8 295.0 L291.2 295.6 L291.6 295.4 L292.0 294.4 L292.4 295.3 L292.8 295.7 L293.2 296.0 L293.6 295.5 L294.0 296.4 L294.4 296.4 L294.8 296.2 L295.2 296.1 L295.6 296.3 L296.0 296.7 L296.4 296.9 L296.8 296.6 L297.2 296.9 L297.6 297.1 L298.0 296.7 L298.4 296.3 L298.8 297.3 L299.2 297.4 L299.6 296.9 L300.0 297.4 L300.4 297.6 L300.8 297.6 L301.2 297.7 L301.6 296.7 L302.0 297.9 L302.4 297.7 L302.8 296.3 L303.2 297.7 L303.6 296.4 L304.0 297.9 L304.4 298.3 L304.8 297.0 L305.2 298.2 L305.6 298.2 L306.0 298.6 L306.4 297.8 L306.8 298.6 L307.2 298.3 L307.6 298.4 L308.0 298.6 L308.4 297.1 L308.8 299.0 L309.2 298.4 L309.6 298.8 L310.0 297.9 L310.4 297.8 L310.8 298.9 L311.2 299.0 L311.6 299.2 L312.0 299.3 L312.4 299.3 L312.8 299.3 L313.2 299.3 L313.6 297.8 L314.0 298.4 L314.4 299.4 L314.8 299.0 L315.2 299.6 L315.6 299.7 L316.0 299.6 L316.4 299.2 L316.8 299.7 L317.2 298.3 L317.6 299.2 L318.0 298.7 L318.4 299.9 L318.8 300.1 L319.2 300.0 L319.6 299.8 L320.0 300.0 L320.4 300.3 L320.8 299.9 L321.2 300.2 L321.6 300.0 L322.0 299.8 L322.4 299.8 L322.8 300.5 L323.2 300.5 L323.6 300.4 L324.0 299.6 L324.4 300.6 L324.8 300.7 L325.2 300.9 L325.6 300.4 L326.0 299.1 L326.4 300.3 L326.8 300.9 L327.2 300.4 L327.6 299.9 L328.0 300.5 L328.4 300.8 L328.8 301.1 L329.2 300.9 L329.6 301.0 L330.0 300.9 L330.4 301.1 L330.8 301.1 L331.2 301.0 L331.6 301.2 L332.0 300.6 L332.4 300.6 L332.8 301.1 L333.2 301.3 L333.6 301.4 L334.0 300.9 L334.4 301.2 L334.8 301.4 L335.2 300.2 L335.6 301.3 L336.0 301.4 L336.4 301.0 L336.8 301.3 L337.2 299.9 L337.6 301.0 L338.0 301.3 L338.4 301.4 L338.8 300.4 L339.2 300.3 L339.6 301.6 L340.0 301.4 L340.4 299.9 L340.8 301.6 L341.2 301.1 L341.6 301.7 L342.0 301.4 L342.4 301.4 L342.8 301.3 L343.2 301.3 L343.6 300.0 L344.0 301.6 L344.4 301.6 L344.8 301.2 L345.2 300.0 L345.6 301.8 L346.0 301.5 L346.4 301.6 L346.8 301.1 L347.2 301.7 L347.6 301.7 L348.0 301.5 L348.4 301.9 L348.8 301.9 L349.2 301.9 L349.6 301.1 L350.0 301.9 L350.4 300.8 L350.8 301.8 L351.2 301.1 L351.6 301.3 L352.0 301.3 L352.4 301.8 L352.8 301.0 L353.2 301.6 L353.6 301.4 L354.0 301.1 L354.4 302.0 L354.8 301.5 L355.2 302.0 L355.6 301.7 L356.0 300.4 L356.4 301.5 L356.8 301.6 L357.2 300.7 L357.6 302.2 L358.0 302.1 L358.4 302.0 L358.8 300.4 L359.2 302.0 L359.6 301.8 L360.0 302.0 L360.4 301.4 L360.8 302.1 L361.2 301.8 L361.6 300.5 L362.0 301.7 L362.4 301.5 L362.8 302.2 L363.2 300.9 L363.6 302.0 L364.0 302.2 L364.4 301.9 L364.8 301.9 L365.2 302.3 L365.6 302.2 L366.0 302.4 L366.4 301.2 L366.8 302.4 L367.2 302.1 L367.6 302.4 L368.0 302.1 L368.4 301.6 L368.8 302.5 L369.2 302.0 L369.6 302.4 L370.0 301.5 L370.4 302.3 L370.8 301.9 L371.2 302.6 L371.6 302.5 L372.0 302.4 L372.4 302.4 L372.8 302.6 L373.2 300.9 L373.6 302.3 L374.0 301.8 L374.4 302.4 L374.8 301.7 L375.2 300.9 L375.6 301.1 L376.0 302.1 L376.4 301.4 L376.8 302.3 L377.2 302.5 L377.6 302.2 L378.0 302.6 L378.4 302.6 L378.8 301.6 L379.2 302.8 L379.6 302.1 L380.0 302.1 L380.4 302.3 L380.8 302.9 L381.2 302.7 L381.6 302.9 L382.0 302.7 L382.4 302.6 L382.8 302.9 L383.2 302.8 L383.6 303.0 L384.0 302.7 L384.4 302.9 L384.8 302.4 L385.2 302.9 L385.6 301.5 L386.0 303.0 L386.4 301.3 L386.8 302.6 L387.2 302.6 L387.6 302.7 L388.0 302.1 L388.4 302.8 L388.8 303.2 L389.2 302.6 L389.6 302.7 L390.0 303.0 L390.4 302.8 L390.8 302.9 L391.2 302.8 L391.6 302.8 L392.0 301.9 L392.4 303.0 L392.8 302.7 L393.2 302.7 L393.6 303.1 L394.0 303.4 L394.4 303.1 L394.8 302.5 L395.2 302.0 L395.6 302.6 L396.0 301.7 L396.4 302.4 L396.8 303.4 L397.2 303.2 L397.6 302.5 L398.0 303.4 L398.4 303.6 L398.8 302.8 L399.2 303.5 L399.6 302.6 L400.0 303.2 L400.4 302.8 L400.8 303.4 L401.2 303.7 L401.6 302.6 L402.0 303.7 L402.4 303.5 L402.8 303.2 L403.2 303.7 L403.6 303.7 L404.0 302.7 L404.4 303.7 L404.8 303.5 L405.2 303.6 L405.6 303.3 L406.0 303.4 L406.4 303.8 L406.8 303.3 L407.2 303.8 L407.6 302.4 L408.0 303.7 L408.4 302.1 L408.8 303.3 L409.2 303.8 L409.6 303.9 L410.0 303.7 L410.4 303.7 L410.8 303.7 L411.2 303.8 L411.6 303.9 L412.0 303.9 L412.4 303.9 L412.8 303.5 L413.2 302.7 L413.6 303.4 L414.0 303.8 L414.4 303.9 L414.8 303.9 L415.2 304.0 L415.6 303.6 L416.0 303.9 L416.4 303.0 L416.8 303.9 L417.2 303.3 L417.6 303.8 L418.0 304.2 L418.4 304.2 L418.8 304.0 L419.2 303.7 L419.6 303.1 L420.0 304.3 L420.4 304.0 L420.8 304.0 L421.2 303.8 L421.6 302.6 L422.0 302.6 L422.4 303.5 L422.8 303.8 L423.2 304.4 L423.6 304.2 L424.0 304.3 L424.4 304.4 L424.8 304.4 L425.2 303.8 L425.6 304.4 L426.0 304.0 L426.4 304.4 L426.8 303.9 L427.2 304.5 L427.6 304.6 L428.0 303.1 L428.4 304.6 L428.8 304.2 L429.2 304.6 L429.6 304.5 L430.0 304.6 L430.4 304.6 L430.8 304.3 L431.2 303.9 L431.6 304.4 L432.0 304.6 L432.4 304.3 L432.8 303.8 L433.2 303.8 L433.6 303.0 L434.0 304.5 L434.4 303.8 L434.8 304.6 L435.2 304.8 L435.6 304.2 L436.0 304.8 L436.4 304.9 L436.8 304.7 L437.2 304.4 L437.6 304.9 L438.0 304.9 L438.4 304.9 L438.8 304.8 L439.2 304.4 L439.6 303.5 L440.0 304.7 L440.4 304.8 L440.8 304.3 L441.2 304.8 L441.6 304.8 L442.0 304.8 L442.4 305.1 L442.8 305.1 L443.2 304.7 L443.6 305.0 L444.0 304.9 L444.4 304.9 L444.8 304.5 L445.2 305.2 L445.6 303.5 L446.0 304.8 L446.4 305.0 L446.8 305.1 L447.2 304.8 L447.6 305.1 L448.0 305.0 L448.4 305.3 L448.8 305.2 L449.2 304.6 L449.6 304.4 L450.0 305.3 L450.4 305.4 L450.8 304.5 L451.2 305.3 L451.6 304.7 L452.0 305.5 L452.4 305.5 L452.8 305.1 L453.2 305.0 L453.6 304.1 L454.0 305.1 L454.4 304.9 L454.8 305.0 L455.2 304.3 L455.6 304.9 L456.0 304.9 L456.4 305.4 L456.8 305.6 L457.2 305.0 L457.6 305.7 L458.0 305.2 L458.4 305.7 L458.8 305.6 L459.2 305.4 L459.6 305.7 L460.0 305.4 L460.4 305.8 L460.8 305.5 L461.2 305.6 L461.6 305.3 L462.0 305.6 L462.4 305.7 L462.8 305.9 L463.2 305.9 L463.6 305.9 L464.0 305.9 L464.4 305.5 L464.8 305.8 L465.2 305.1 L465.6 305.6 L466.0 304.3 L466.4 305.4 L466.8 305.9 L467.2 305.7 L467.6 306.1 L468.0 305.9 L468.4 305.8 L468.8 305.7 L469.2 304.9 L469.6 305.8 L470.0 305.5 L470.4 306.0 L470.8 306.2 L471.2 305.8 L471.6 306.0 L472.0 304.7 L472.4 305.4 L472.8 305.5 L473.2 306.2 L473.6 305.8 L474.0 305.6 L474.4 305.1 L474.8 305.7 L475.2 304.8 L475.6 306.2 L476.0 305.7 L476.4 306.3 L476.8 306.0 L477.2 306.3 L477.6 306.4 L478.0 306.3 L478.4 306.3 L478.8 305.4 L479.2 305.5 L479.6 306.0 L480.0 305.8 L480.4 306.0 L480.8 305.8 L481.2 306.5 L481.6 306.4 L482.0 306.5 L482.4 306.4 L482.8 305.1 L483.2 306.2 L483.6 306.5 L484.0 306.6 L484.4 306.1 L484.8 305.5 L485.2 306.3 L485.6 304.9 L486.0 305.6 L486.4 306.2 L486.8 306.8 L487.2 305.0 L487.6 305.8 L488.0 306.4 L488.4 306.4 L488.8 306.4 L489.2 306.5 L489.6 306.2 L490.0 306.5 L490.4 306.5 L490.8 305.1 L491.2 306.8 L491.6 306.7 L492.0 305.5 L492.4 305.4 L492.8 305.9 L493.2 307.0 L493.6 306.5 L494.0 306.5 L494.4 305.6 L494.8 306.6 L495.2 307.0 L495.6 306.0 L496.0 307.0 L496.4 306.1 L496.4 309.1 L496.0 308.5 L495.6 310.1 L495.2 308.5 L494.8 310.1 L494.4 308.5 L494.0 308.9 L493.6 309.0 L493.2 308.7 L492.8 309.8 L492.4 309.7 L492.0 310.1 L491.6 309.0 L491.2 308.5 L490.8 308.7 L490.4 308.7 L490.0 308.3 L489.6 308.5 L489.2 308.4 L488.8 308.5 L488.4 308.3 L488.0 308.3 L487.6 309.0 L487.2 308.8 L486.8 308.6 L486.4 308.2 L486.0 308.2 L485.6 308.3 L485.2 308.2 L484.8 308.2 L484.4 308.1 L484.0 309.6 L483.6 309.7 L483.2 308.3 L482.8 308.4 L482.4 308.7 L482.0 308.3 L481.6 308.8 L481.2 309.4 L480.8 308.1 L480.4 309.3 L480.0 308.3 L479.6 308.3 L479.2 308.9 L478.8 308.0 L478.4 308.3 L478.0 308.0 L477.6 308.2 L477.2 308.0 L476.8 308.0 L476.4 307.8 L476.0 308.0 L475.6 308.8 L475.2 308.5 L474.8 308.0 L474.4 309.1 L474.0 308.2 L473.6 307.8 L473.2 308.1 L472.8 307.8 L472.4 307.7 L472.0 308.4 L471.6 307.7 L471.2 308.1 L470.8 308.3 L470.4 308.6 L470.0 307.7 L469.6 307.7 L469.2 307.9 L468.8 309.4 L468.4 308.1 L468.0 308.2 L467.6 308.4 L467.2 307.7 L466.8 308.2 L466.4 307.6 L466.0 307.7 L465.6 307.8 L465.2 307.7 L464.8 307.9 L464.4 307.8 L464.0 307.6 L463.6 307.6 L463.2 307.8 L462.8 308.1 L462.4 308.1 L462.0 307.9 L461.6 308.7 L461.2 307.5 L460.8 307.3 L460.4 308.4 L460.0 308.2 L459.6 307.5 L459.2 308.6 L458.8 308.8 L458.4 307.2 L458.0 307.6 L457.6 308.1 L457.2 307.2 L456.8 307.3 L456.4 307.4 L456.0 307.3 L455.6 307.4 L455.2 307.1 L454.8 308.8 L454.4 307.3 L454.0 307.0 L453.6 307.7 L453.2 307.0 L452.8 308.3 L452.4 307.5 L452.0 307.7 L451.6 307.4 L451.2 307.8 L450.8 307.1 L450.4 308.7 L450.0 307.4 L449.6 307.1 L449.2 307.1 L448.8 307.0 L448.4 306.8 L448.0 307.5 L447.6 307.1 L447.2 307.2 L446.8 306.9 L446.4 307.2 L446.0 308.4 L445.6 306.7 L445.2 306.9 L444.8 307.0 L444.4 306.7 L444.0 306.8 L443.6 306.6 L443.2 306.8 L442.8 306.9 L442.4 307.5 L442.0 306.8 L441.6 306.7 L441.2 306.8 L440.8 306.6 L440.4 306.6 L440.0 307.7 L439.6 306.9 L439.2 307.6 L438.8 306.7 L438.4 307.7 L438.0 306.5 L437.6 306.6 L437.2 307.3 L436.8 308.1 L436.4 306.4 L436.0 306.7 L435.6 306.9 L435.2 307.2 L434.8 306.2 L434.4 308.0 L434.0 306.7 L433.6 306.6 L433.2 306.3 L432.8 306.2 L432.4 306.5 L432.0 306.5 L431.6 306.2 L431.2 306.3 L430.8 306.3 L430.4 306.1 L430.0 306.5 L429.6 306.4 L429.2 306.9 L428.8 306.4 L428.4 306.3 L428.0 307.2 L427.6 307.0 L427.2 306.3 L426.8 306.8 L426.4 306.8 L426.0 306.7 L425.6 306.5 L425.2 306.0 L424.8 306.2 L424.4 306.1 L424.0 307.7 L423.6 306.4 L423.2 306.2 L422.8 307.6 L422.4 306.4 L422.0 306.1 L421.6 307.6 L421.2 306.3 L420.8 306.0 L420.4 306.0 L420.0 306.3 L419.6 307.3 L419.2 305.9 L418.8 306.4 L418.4 305.9 L418.0 306.9 L417.6 306.1 L417.2 306.7 L416.8 305.9 L416.4 305.8 L416.0 305.7 L415.6 305.7 L415.2 306.2 L414.8 307.2 L414.4 305.7 L414.0 305.6 L413.6 306.0 L413.2 305.8 L412.8 305.8 L412.4 306.5 L412.0 306.6 L411.6 305.9 L411.2 306.1 L410.8 306.9 L410.4 305.7 L410.0 306.3 L409.6 305.9 L409.2 305.7 L408.8 305.6 L408.4 306.0 L408.0 305.5 L407.6 305.8 L407.2 305.4 L406.8 305.6 L406.4 305.4 L406.0 305.9 L405.6 305.4 L405.2 305.4 L404.8 305.2 L404.4 305.8 L404.0 305.9 L403.6 305.7 L403.2 307.0 L402.8 306.4 L402.4 306.1 L402.0 305.2 L401.6 306.1 L401.2 305.3 L400.8 305.1 L400.4 305.2 L400.0 306.3 L399.6 305.8 L399.2 305.9 L398.8 305.4 L398.4 305.4 L398.0 305.5 L397.6 305.1 L397.2 305.4 L396.8 305.8 L396.4 305.6 L396.0 304.9 L395.6 305.3 L395.2 305.8 L394.8 305.4 L394.4 305.0 L394.0 306.6 L393.6 305.9 L393.2 306.6 L392.8 305.0 L392.4 306.6 L392.0 304.9 L391.6 305.2 L391.2 305.1 L390.8 304.7 L390.4 305.2 L390.0 304.8 L389.6 305.0 L389.2 305.0 L388.8 305.6 L388.4 305.1 L388.0 305.2 L387.6 305.8 L387.2 304.7 L386.8 304.8 L386.4 304.7 L386.0 304.8 L385.6 304.8 L385.2 305.1 L384.8 304.6 L384.4 304.8 L384.0 306.3 L383.6 306.3 L383.2 305.2 L382.8 305.6 L382.4 306.1 L382.0 304.6 L381.6 304.8 L381.2 304.7 L380.8 304.5 L380.4 304.5 L380.0 304.8 L379.6 304.5 L379.2 304.6 L378.8 304.5 L378.4 304.5 L378.0 304.8 L377.6 305.2 L377.2 304.5 L376.8 304.4 L376.4 304.3 L376.0 304.4 L375.6 304.5 L375.2 304.3 L374.8 305.0 L374.4 305.1 L374.0 304.9 L373.6 305.1 L373.2 304.2 L372.8 304.3 L372.4 304.5 L372.0 304.9 L371.6 304.1 L371.2 304.2 L370.8 304.2 L370.4 305.1 L370.0 305.9 L369.6 305.6 L369.2 304.6 L368.8 304.5 L368.4 304.3 L368.0 304.3 L367.6 305.1 L367.2 305.8 L366.8 304.1 L366.4 304.2 L366.0 304.0 L365.6 304.1 L365.2 304.3 L364.8 304.1 L364.4 304.0 L364.0 303.9 L363.6 304.0 L363.2 304.1 L362.8 303.9 L362.4 304.0 L362.0 304.3 L361.6 304.1 L361.2 304.6 L360.8 304.1 L360.4 304.8 L360.0 304.0 L359.6 304.2 L359.2 303.8 L358.8 303.8 L358.4 304.5 L358.0 303.8 L357.6 304.4 L357.2 305.5 L356.8 304.0 L356.4 304.0 L356.0 303.8 L355.6 305.3 L355.2 303.7 L354.8 303.8 L354.4 303.9 L354.0 304.6 L353.6 304.2 L353.2 303.9 L352.8 304.6 L352.4 304.4 L352.0 303.8 L351.6 303.8 L351.2 303.9 L350.8 304.0 L350.4 303.6 L350.0 304.7 L349.6 303.9 L349.2 303.9 L348.8 304.2 L348.4 303.5 L348.0 303.6 L347.6 303.6 L347.2 303.6 L346.8 303.9 L346.4 303.6 L346.0 303.9 L345.6 304.0 L345.2 304.4 L344.8 304.1 L344.4 304.1 L344.0 304.6 L343.6 303.6 L343.2 304.4 L342.8 303.9 L342.4 303.9 L342.0 303.5 L341.6 303.8 L341.2 303.4 L340.8 303.4 L340.4 303.4 L340.0 303.5 L339.6 303.6 L339.2 303.3 L338.8 303.5 L338.4 304.2 L338.0 303.5 L337.6 303.7 L337.2 304.0 L336.8 303.6 L336.4 304.9 L336.0 303.5 L335.6 303.7 L335.2 303.6 L334.8 303.3 L334.4 303.2 L334.0 303.4 L333.6 303.4 L333.2 303.3 L332.8 303.3 L332.4 303.0 L332.0 303.5 L331.6 303.5 L331.2 303.3 L330.8 303.0 L330.4 303.6 L330.0 303.3 L329.6 303.0 L329.2 303.3 L328.8 303.1 L328.4 303.1 L328.0 302.9 L327.6 302.9 L327.2 304.6 L326.8 303.4 L326.4 304.2 L326.0 302.9 L325.6 303.6 L325.2 303.2 L324.8 302.6 L324.4 302.8 L324.0 302.7 L323.6 302.8 L323.2 303.2 L322.8 302.5 L322.4 303.0 L322.0 302.5 L321.6 302.4 L321.2 302.6 L320.8 302.2 L320.4 302.3 L320.0 302.3 L319.6 302.1 L319.2 302.9 L318.8 303.3 L318.4 302.3 L318.0 301.9 L317.6 302.7 L317.2 302.1 L316.8 301.9 L316.4 302.0 L316.0 303.3 L315.6 301.9 L315.2 301.6 L314.8 301.9 L314.4 301.6 L314.0 301.6 L313.6 302.2 L313.2 301.8 L312.8 301.8 L312.4 301.5 L312.0 301.8 L311.6 301.5 L311.2 302.1 L310.8 302.3 L310.4 301.5 L310.0 301.6 L309.6 301.7 L309.2 301.0 L308.8 301.2 L308.4 301.4 L308.0 301.1 L307.6 302.4 L307.2 300.9 L306.8 300.8 L306.4 301.4 L306.0 302.3 L305.6 300.5 L305.2 300.6 L304.8 300.5 L304.4 300.5 L304.0 301.1 L303.6 300.3 L303.2 301.0 L302.8 300.1 L302.4 300.1 L302.0 300.3 L301.6 300.8 L301.2 300.5 L300.8 299.9 L300.4 300.8 L300.0 300.2 L299.6 300.0 L299.2 299.7 L298.8 299.6 L298.4 299.5 L298.0 299.8 L297.6 300.7 L297.2 300.2 L296.8 299.4 L296.4 299.4 L296.0 299.0 L295.6 300.2 L295.2 299.6 L294.8 298.8 L294.4 299.2 L294.0 299.1 L293.6 299.6 L293.2 299.5 L292.8 298.6 L292.4 298.5 L292.0 298.4 L291.6 298.7 L291.2 299.4 L290.8 298.6 L290.4 298.8 L290.0 298.7 L289.6 298.1 L289.2 299.6 L288.8 298.7 L288.4 297.8 L288.0 299.2 L287.6 298.2 L287.2 297.8 L286.8 297.7 L286.4 298.5 L286.0 297.6 L285.6 297.3 L285.2 297.8 L284.8 299.0 L284.4 297.8 L284.0 297.8 L283.6 297.2 L283.2 297.5 L282.8 297.6 L282.4 297.8 L282.0 296.8 L281.6 296.7 L281.2 296.8 L280.8 296.5 L280.4 298.1 L280.0 296.4 L279.6 297.6 L279.2 296.3 L278.8 296.1 L278.4 297.4 L278.0 296.5 L277.6 297.5 L277.2 295.8 L276.8 295.9 L276.4 295.6 L276.0 297.2 L275.6 295.5 L275.2 297.0 L274.8 295.6 L274.4 296.7 L274.0 295.0 L273.6 295.2 L273.2 296.0 L272.8 294.8 L272.4 294.9 L272.0 294.6 L271.6 295.1 L271.2 295.6 L270.8 296.0 L270.4 295.3 L270.0 295.4 L269.6 295.6 L269.2 295.9 L268.8 294.1 L268.4 294.3 L268.0 294.1 L267.6 294.6 L267.2 294.1 L266.8 294.1 L266.4 293.6 L266.0 293.8 L265.6 294.1 L265.2 295.0 L264.8 293.3 L264.4 294.9 L264.0 293.7 L263.6 294.8 L263.2 293.5 L262.8 294.4 L262.4 294.7 L262.0 293.9 L261.6 293.7 L261.2 293.2 L260.8 293.4 L260.4 292.8 L260.0 292.7 L259.6 292.9 L259.2 292.8 L258.8 292.7 L258.4 292.9 L258.0 292.9 L257.6 292.5 L257.2 293.1 L256.8 293.4 L256.4 292.7 L256.0 294.2 L255.6 292.5 L255.2 292.4 L254.8 292.5 L254.4 293.0 L254.0 294.0 L253.6 293.6 L253.2 293.0 L252.8 294.2 L252.4 292.6 L252.0 293.0 L251.6 294.1 L251.2 294.2 L250.8 292.9 L250.4 294.3 L250.0 293.4 L249.6 292.7 L249.2 292.7 L248.8 294.4 L248.4 293.9 L248.0 293.2 L247.6 293.6 L247.2 293.2 L246.8 293.3 L246.4 293.8 L246.0 293.5 L245.6 293.9 L245.2 293.2 L244.8 293.6 L244.4 293.2 L244.0 293.6 L243.6 294.1 L243.2 293.8 L242.8 293.0 L242.4 293.3 L242.0 294.3 L241.6 293.9 L241.2 293.5 L240.8 293.2 L240.4 293.3 L240.0 293.4 L239.6 293.9 L239.2 293.7 L238.8 294.2 L238.4 293.4 L238.0 293.4 L237.6 293.7 L237.2 294.0 L236.8 293.8 L236.4 293.7 L236.0 294.3 L235.6 293.9 L235.2 294.2 L234.8 293.9 L234.4 293.9 L234.0 295.6 L233.6 294.3 L233.2 294.1 L232.8 294.2 L232.4 294.7 L232.0 295.8 L231.6 294.4 L231.2 294.9 L230.8 295.1 L230.4 294.5 L230.0 294.5 L229.6 295.6 L229.2 294.9 L228.8 294.6 L228.4 294.6 L228.0 294.9 L227.6 294.9 L227.2 295.3 L226.8 295.1 L226.4 294.8 L226.0 295.0 L225.6 296.1 L225.2 296.1 L224.8 296.0 L224.4 295.5 L224.0 296.8 L223.6 295.6 L223.2 295.3 L222.8 295.3 L222.4 295.8 L222.0 296.3 L221.6 295.7 L221.2 295.5 L220.8 297.1 L220.4 295.9 L220.0 295.7 L219.6 297.2 L219.2 295.6 L218.8 297.3 L218.4 295.8 L218.0 297.1 L217.6 296.0 L217.2 296.1 L216.8 296.6 L216.4 295.9 L216.0 295.8 L215.6 296.6 L215.2 295.9 L214.8 295.8 L214.4 297.4 L214.0 296.2 L213.6 296.0 L213.2 296.6 L212.8 296.1 L212.4 297.7 L212.0 296.3 L211.6 296.1 L211.2 297.8 L210.8 296.1 L210.4 296.4 L210.0 296.9 L209.6 296.8 L209.2 297.6 L208.8 297.3 L208.4 296.9 L208.0 296.5 L207.6 297.1 L207.2 296.8 L206.8 297.0 L206.4 296.6 L206.0 297.3 L205.6 297.4 L205.2 296.6 L204.8 297.4 L204.4 297.2 L204.0 298.1 L203.6 296.6 L203.2 297.7 L202.8 296.7 L202.4 297.4 L202.0 297.3 L201.6 297.3 L201.2 297.0 L200.8 297.8 L200.4 297.5 L200.0 297.5 L199.6 297.6 L199.2 297.4 L198.8 297.4 L198.4 297.5 L198.0 298.7 L197.6 297.6 L197.2 297.6 L196.8 297.8 L196.4 299.3 L196.0 298.1 L195.6 297.7 L195.2 298.6 L194.8 297.9 L194.4 298.7 L194.0 298.2 L193.6 298.8 L193.2 298.2 L192.8 298.5 L192.4 298.8 L192.0 298.5 L191.6 299.9 L191.2 299.0 L190.8 300.5 L190.4 299.4 L190.0 300.8 L189.6 299.5 L189.2 299.5 L188.8 299.6 L188.4 300.2 L188.0 299.8 L187.6 301.0 L187.2 300.2 L186.8 300.5 L186.4 300.8 L186.0 301.0 L185.6 300.5 L185.2 300.6 L184.8 301.0 L184.4 300.9 L184.0 302.3 L183.6 302.9 L183.2 301.3 L182.8 302.0 L182.4 302.0 L182.0 301.8 L181.6 302.3 L181.2 303.2 L180.8 302.1 L180.4 303.9 L180.0 302.7 L179.6 302.7 L179.2 302.7 L178.8 303.3 L178.4 302.8 L178.0 302.9 L177.6 303.3 L177.2 303.2 L176.8 304.2 L176.4 303.7 L176.0 305.1 L175.6 303.8 L175.2 304.1 L174.8 305.2 L174.4 305.6 L174.0 304.1 L173.6 305.5 L173.2 305.1 L172.8 304.5 L172.4 304.6 L172.0 305.4 L171.6 305.2 L171.2 305.1 L170.8 305.5 L170.4 305.4 L170.0 305.3 L169.6 305.7 L169.2 305.8 L168.8 307.1 L168.4 306.5 L168.0 305.8 L167.6 306.5 L167.2 306.5 L166.8 306.5 L166.4 307.5 L166.0 306.4 L165.6 306.5 L165.2 306.8 L164.8 307.3 L164.4 306.7 L164.0 307.6 L163.6 307.5 L163.2 307.3 L162.8 307.5 L162.4 307.4 L162.0 308.8 L161.6 307.9 L161.2 307.6 L160.8 307.8 L160.4 307.6 L160.0 307.9 L159.6 308.5 L159.2 308.9 L158.8 308.1 L158.4 308.7 L158.0 309.2 L157.6 308.8 L157.2 308.4 L156.8 308.4 L156.4 309.1 L156.0 309.0 L155.6 308.3 L155.2 308.4 L154.8 308.6 L154.4 308.7 L154.0 309.4 L153.6 308.5 L153.2 308.8 L152.8 308.9 L152.4 309.3 L152.0 310.1 L151.6 308.7 L151.2 310.5 L150.8 308.9 L150.4 308.9 L150.0 309.2 L149.6 308.9 L149.2 309.0 L148.8 309.6 L148.4 309.7 L148.0 309.2 L147.6 310.3 L147.2 309.3 L146.8 309.8 L146.4 309.3 L146.0 309.6 L145.6 309.4 L145.2 310.0 L144.8 309.5 L144.4 311.3 L144.0 310.8 L143.6 309.8 L143.2 310.4 L142.8 309.8 L142.4 310.2 L142.0 310.2 L141.6 310.3 L141.2 310.0 L140.8 310.2 L140.4 310.3 L140.0 310.1 L139.6 310.4 L139.2 310.7 L138.8 310.6 L138.4 310.4 L138.0 310.4 L137.6 310.3 L137.2 310.4 L136.8 310.8 L136.4 310.6 L136.0 311.5 L135.6 310.7 L135.2 310.8 L134.8 311.7 L134.4 310.8 L134.0 310.6 L133.6 311.0 L133.2 311.4 L132.8 311.0 L132.4 310.7 L132.0 311.1 L131.6 310.9 L131.2 311.2 L130.8 311.7 L130.4 311.9 L130.0 311.1 L129.6 311.3 L129.2 311.3 L128.8 311.6 L128.4 311.3 L128.0 311.1 L127.6 311.4 L127.2 311.6 L126.8 311.7 L126.4 311.2 L126.0 311.9 L125.6 311.3 L125.2 311.2 L124.8 311.2 L124.4 311.9 L124.0 311.5 L123.6 311.5 L123.2 312.4 L122.8 312.0 L122.4 313.0 L122.0 312.4 L121.6 311.9 L121.2 312.1 L120.8 311.5 L120.4 311.7 L120.0 312.1 L119.6 311.8 L119.2 312.5 L118.8 311.7 L118.4 312.0 L118.0 311.5 L117.6 312.2 L117.2 312.1 L116.8 311.8 L116.4 311.7 L116.0 311.6 L115.6 311.8 L115.2 311.6 L114.8 311.7 L114.4 313.0 L114.0 312.1 L113.6 311.9 L113.2 311.6 L112.8 311.7 L112.4 311.6 L112.0 311.7 L111.6 312.3 L111.2 312.0 L110.8 311.7 L110.4 311.7 L110.0 311.9 L109.6 312.5 L109.2 312.0 L108.8 311.9 L108.4 311.8 L108.0 311.8 L107.6 313.0 L107.2 312.5 L106.8 312.0 L106.4 311.9 L106.0 311.9 L105.6 312.8 L105.2 312.0 L104.8 312.2 L104.4 312.7 L104.0 312.2 Z" fill="#000"/>
<g font-family="Liberation Sans, Arial, sans-serif" font-weight="bold" font-size="17" fill="#111" stroke="#111" stroke-width="0.25"><text x="357" y="98.1">20%-loaded ITZ</text><text x="359.5" y="177.3">30%-loaded ITZ</text><text x="357.2" y="253.6">50%-loaded ITZ</text><text x="370" y="295.6">100% ITZ</text></g>
<text transform="translate(40,176.8) rotate(-90)" text-anchor="middle" font-family="Liberation Sans, Arial, sans-serif" font-weight="bold" font-size="15.2" fill="#111" stroke="#111" stroke-width="0.2">Relative intensity (count)</text>
<text x="273.4" y="383.7" font-family="Liberation Sans, Arial, sans-serif" font-weight="bold" font-size="14.6" fill="#111" stroke="#111" stroke-width="0.2">2<tspan font-style="italic" font-weight="normal" stroke-width="0.1" dx="1.0">θ</tspan><tspan dx="-1.6"> (degree)</tspan></text>
</svg>
</body></html>
